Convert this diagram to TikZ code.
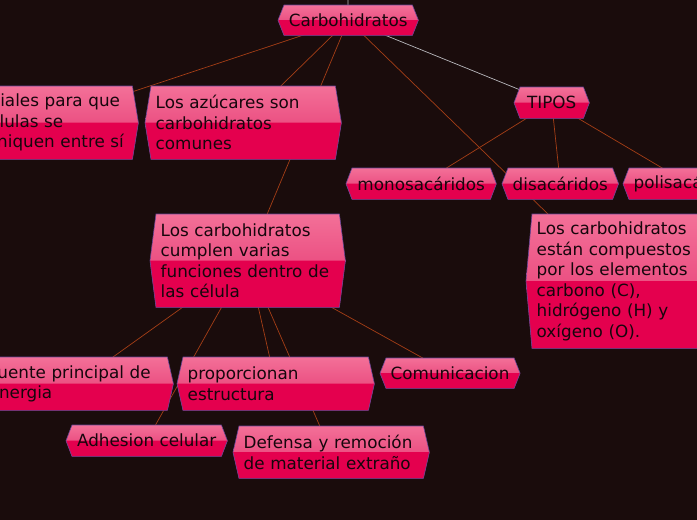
\documentclass[tikz,border=0pt]{standalone}
\usepackage{fontspec}
\setmainfont{DejaVu Sans}
\usetikzlibrary{calc}
\definecolor{canvas}{RGB}{26,12,12}
\definecolor{pinktop}{RGB}{243,112,152}
\definecolor{pinkmid}{RGB}{228,50,110}
\definecolor{crimson}{RGB}{228,0,78}
\definecolor{rimcol}{RGB}{104,70,150}
\definecolor{linkcol}{RGB}{165,62,22}
\definecolor{greycol}{RGB}{185,185,190}
\definecolor{ink}{RGB}{22,6,12}
\pgfdeclarelayer{back}
\pgfsetlayers{back,main}
\tikzstyle{topic}=[anchor=north west,inner xsep=10.5pt,inner ysep=0pt,text=ink,align=left,font=\fontsize{16.8}{20.5}\selectfont]
\tikzstyle{tag}=[topic,align=center]
\tikzstyle{wire}=[draw=linkcol,line width=0.7pt]
\tikzstyle{greywire}=[wire,draw=greycol]

\begin{document}
\begin{tikzpicture}[x=1pt,y=-1pt]
\useasboundingbox (0,0) rectangle (697,520);
\begin{scope}
\clip (0,0) rectangle (697,520);
% top
\node[tag,minimum width=140pt,minimum height=30pt] (carb) at (278,5) {Carbohidratos};
\node[topic,text width=177pt,minimum height=73pt] (esencial) at (-60,86) {Esenciales para que\\las células se\\comuniquen entre sí};
\node[topic,text width=175pt,minimum height=73pt] (azucar) at (145,86) {Los azúcares son\\carbohidratos\\comunes};
\node[tag,minimum width=75pt,minimum height=31pt] (tipos) at (514,87) {TIPOS};
% tipos
\node[tag,minimum width=150pt,minimum height=31pt] (mono) at (346,168) {monosacáridos};
\node[tag,minimum width=116pt,minimum height=31pt] (di) at (502,168) {disacáridos};
\node[tag,minimum width=131pt,minimum height=31pt] (poli) at (623,168) {polisacáridos};
\node[topic,text width=161pt,minimum height=134pt] (compuesto) at (526,214) {Los carbohidratos\\están compuestos\\por los elementos\\carbono (C),\\hidrógeno (H) y\\oxígeno (O).};
% funciones
\node[topic,text width=174pt,minimum height=93pt] (funcion) at (150,214) {Los carbohidratos\\cumplen varias\\funciones dentro de\\las célula};
\node[topic,text width=174pt,minimum height=53pt] (fuente) at (-22,357) {Fuente principal de\\energia};
\node[topic,text width=176pt,minimum height=53pt] (estructura) at (177,357) {proporcionan\\estructura};
\node[tag,minimum width=139pt,minimum height=30pt] (comunic) at (380,358) {Comunicacion};
\node[tag,minimum width=161pt,minimum height=31pt] (adhesion) at (66,425) {Adhesion celular};
\node[topic,text width=175pt,minimum height=52pt] (defensa) at (233,426) {Defensa y remoción\\de material extraño};
\end{scope}

\begin{pgfonlayer}{back}
\clip (0,0) rectangle (697,520);
\fill[canvas] (0,0) rectangle (697,520);
\coordinate (up) at (348,-5);
\draw[greywire] (carb.center) -- (up);
\draw[greywire] (carb.center) -- (tipos.center);
\foreach \t in {esencial,azucar,funcion,compuesto}
  \draw[wire] (carb.center) -- (\t.center);
\foreach \t in {mono,di,poli}
  \draw[wire] (tipos.center) -- (\t.center);
\foreach \t in {fuente,adhesion,estructura,defensa,comunic}
  \draw[wire] (funcion.center) -- (\t.center);
% hexagon boxes
\foreach \n in {carb,esencial,azucar,tipos,mono,di,poli,compuesto,funcion,fuente,estructura,comunic,adhesion,defensa}{
  \fill[top color=pinktop,bottom color=pinkmid] ($(\n.north west)+(6,0)$) -- ($(\n.north east)+(-6,0)$) -- (\n.east) -- ($(\n.south east)+(-6,0)$) -- ($(\n.south west)+(6,0)$) -- (\n.west) -- cycle;
  \fill[crimson] (\n.west) -- (\n.east) -- ($(\n.south east)+(-6,0)$) -- ($(\n.south west)+(6,0)$) -- cycle;
  \draw[rimcol,line width=0.6pt] ($(\n.north west)+(6,0)$) -- ($(\n.north east)+(-6,0)$) -- (\n.east) -- ($(\n.south east)+(-6,0)$) -- ($(\n.south west)+(6,0)$) -- (\n.west) -- cycle;
}
\end{pgfonlayer}
\end{tikzpicture}
\end{document}
